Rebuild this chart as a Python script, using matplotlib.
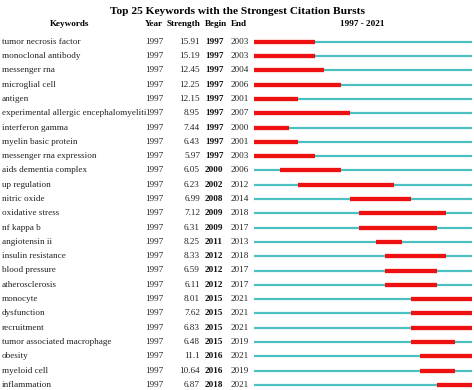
import matplotlib.pyplot as plt
from matplotlib.transforms import blended_transform_factory

keywords = ["tumor necrosis factor", "monoclonal antibody", "messenger rna",
            "microglial cell", "antigen", "experimental allergic encephalomyeliti",
            "interferon gamma", "myelin basic protein", "messenger rna expression",
            "aids dementia complex", "up regulation", "nitric oxide",
            "oxidative stress", "nf kappa b", "angiotensin ii",
            "insulin resistance", "blood pressure", "atherosclerosis",
            "monocyte", "dysfunction", "recruitment", "tumor associated macrophage",
            "obesity", "myeloid cell", "inflammation"]
year = [1997] * 25
strength = ["15.91", "15.19", "12.45", "12.25", "12.15", "8.95", "7.44", "6.43",
            "5.97", "6.05", "6.23", "6.99", "7.12", "6.31", "8.25", "8.33",
            "6.59", "6.11", "8.01", "7.62", "6.83", "6.48", "11.1", "10.64", "6.87"]
begin = [1997, 1997, 1997, 1997, 1997, 1997, 1997, 1997, 1997, 2000, 2002, 2008,
         2009, 2009, 2011, 2012, 2012, 2012, 2015, 2015, 2015, 2015, 2016, 2016, 2018]
end = [2003, 2003, 2004, 2006, 2001, 2007, 2000, 2001, 2003, 2006, 2012, 2014,
       2018, 2017, 2013, 2018, 2017, 2017, 2021, 2021, 2021, 2019, 2021, 2019, 2021]
first_year, last_year = 1997, 2021

W, H = 474, 390
plt.rcParams['font.family'] = ['Liberation Serif', 'DejaVu Serif']
fig = plt.figure(figsize=(W / 100, H / 100), dpi=100)

# timeline axes, pixel geometry
row_h = 14.3
top = 41.7 - row_h / 2
n = len(keywords)
ax = fig.add_axes([254 / W, 1 - (top + n * row_h) / H, 218 / W, n * row_h / H])
ax.set_xlim(first_year, last_year + 1)
ax.set_ylim(n - 0.5, -0.5)
ax.axis('off')

rows = list(range(n))
ax.hlines(rows, first_year, last_year + 1, color='#4cc0c0', lw=1.6)
ax.hlines(rows, begin, [e + 1 for e in end], color='#ee1111', lw=3.1)

tr = blended_transform_factory(fig.transFigure, ax.transData)
fs = 6.6
for i in rows:
    ax.text(2 / W, i, keywords[i], transform=tr, fontsize=fs, va='center', color='#222222')
    ax.text(145 / W, i, str(year[i]), transform=tr, fontsize=fs, va='center', color='#222222')
    ax.text(200 / W, i, strength[i], transform=tr, fontsize=fs, va='center', ha='right', color='#222222')
    ax.text(205 / W, i, str(begin[i]), transform=tr, fontsize=fs, va='center', weight='bold', color='#111111')
    ax.text(231 / W, i, str(end[i]), transform=tr, fontsize=fs, va='center', color='#222222')

fig.text(237 / W, 1 - 12 / H, "Top 25 Keywords with the Strongest Citation Bursts",
         ha='center', va='center', fontsize=8.2, weight='bold')
hy = 1 - 24.5 / H
fig.text(70 / W, hy, "Keywords", ha='center', va='center', fontsize=fs, weight='bold')
fig.text(145 / W, hy, "Year", ha='left', va='center', fontsize=fs, weight='bold')
fig.text(167 / W, hy, "Strength", ha='left', va='center', fontsize=fs, weight='bold')
fig.text(205 / W, hy, "Begin", ha='left', va='center', fontsize=fs, weight='bold')
fig.text(231 / W, hy, "End", ha='left', va='center', fontsize=fs, weight='bold')
fig.text(362 / W, hy, "%d - %d" % (first_year, last_year), ha='center', va='center', fontsize=fs, weight='bold')

fig.savefig("out.png", dpi=100)
